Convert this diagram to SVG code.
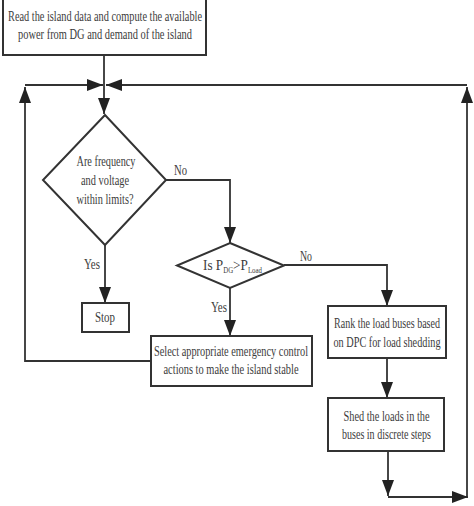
<svg xmlns="http://www.w3.org/2000/svg" width="474" height="506" viewBox="0 0 474 506">
<defs>
<style>
.box{fill:#fff;stroke:#333;stroke-width:2}
.ln{fill:none;stroke:#333;stroke-width:1.8}
.t{font-family:"Liberation Serif","Times New Roman",serif;font-size:14.5px;fill:#3c3c3c;text-anchor:middle}
.l{font-family:"Liberation Serif","Times New Roman",serif;font-size:14.5px;fill:#3c3c3c}
.s{font-size:7.5px}
</style>
<marker id="ah" markerUnits="userSpaceOnUse" markerWidth="16" markerHeight="12" refX="16" refY="6" orient="auto">
<path d="M0,0 L16,6 L0,12 z" fill="#222"/>
</marker>
</defs>
<rect width="474" height="506" fill="#fff"/>
<g id="connectors">
<path class="ln" d="M104,55 V114" marker-end="url(#ah)"/>
<path class="ln" d="M151,361 H25 V87" marker-end="url(#ah)"/>
<path class="ln" d="M25,85 H103" marker-end="url(#ah)"/>
<path class="ln" d="M388,451 V496" marker-end="url(#ah)"/>
<path class="ln" d="M388,497 H468" marker-end="url(#ah)"/>
<path class="ln" d="M467,496 V87" marker-end="url(#ah)"/>
<path class="ln" d="M467,85 H106" marker-end="url(#ah)"/>
<path class="ln" d="M105,245 V303" marker-end="url(#ah)"/>
<path class="ln" d="M166,180 H230 V243" marker-end="url(#ah)"/>
<path class="ln" d="M230,288 V336" marker-end="url(#ah)"/>
<path class="ln" d="M284,265 H387 V306" marker-end="url(#ah)"/>
<path class="ln" d="M387,358 V398" marker-end="url(#ah)"/>
</g>
<g id="start">
<rect class="box" x="3" y="-3" width="203" height="58"/>
<text class="t" x="105" y="21" textLength="194" lengthAdjust="spacingAndGlyphs">Read the island data and compute the available</text>
<text class="t" x="105" y="39" textLength="174" lengthAdjust="spacingAndGlyphs">power from DG and demand of the island</text>
</g>
<g id="decision1">
<polygon class="box" points="105,115 166,180 105,245 43,180"/>
<text class="t" x="106" y="166" textLength="59" lengthAdjust="spacingAndGlyphs">Are frequency</text>
<text class="t" x="105" y="185" textLength="48" lengthAdjust="spacingAndGlyphs">and voltage</text>
<text class="t" x="105" y="204" textLength="57" lengthAdjust="spacingAndGlyphs">within limits?</text>
<text class="l" x="174" y="175" textLength="13" lengthAdjust="spacingAndGlyphs">No</text>
<text class="l" x="84" y="269" textLength="16" lengthAdjust="spacingAndGlyphs">Yes</text>
</g>
<g id="decision2">
<polygon class="box" points="230,243 284,265.5 230,288 177,265.5"/>
<text class="l" x="203" y="270" textLength="59" lengthAdjust="spacingAndGlyphs">Is P<tspan class="s" dy="3">DG</tspan><tspan dy="-3">&gt;P</tspan><tspan class="s" dy="3">Load</tspan></text>
<text class="l" x="300" y="261" textLength="12" lengthAdjust="spacingAndGlyphs">No</text>
<text class="l" x="211" y="312" textLength="16" lengthAdjust="spacingAndGlyphs">Yes</text>
</g>
<g id="stop">
<rect class="box" x="82" y="303" width="47" height="29"/>
<text class="t" x="105" y="322" textLength="20" lengthAdjust="spacingAndGlyphs">Stop</text>
</g>
<g id="select">
<rect class="box" x="151" y="336" width="161" height="50"/>
<text class="t" x="231" y="356" textLength="154" lengthAdjust="spacingAndGlyphs">Select appropriate emergency control</text>
<text class="t" x="231" y="374" textLength="135" lengthAdjust="spacingAndGlyphs">actions to make the island stable</text>
</g>
<g id="rank">
<rect class="box" x="328" y="306" width="118" height="52"/>
<text class="t" x="387" y="328" textLength="106" lengthAdjust="spacingAndGlyphs">Rank the load buses based</text>
<text class="t" x="387" y="347" textLength="107" lengthAdjust="spacingAndGlyphs">on DPC for load shedding</text>
</g>
<g id="shed">
<rect class="box" x="328" y="398" width="116" height="53"/>
<text class="t" x="386.5" y="421" textLength="86" lengthAdjust="spacingAndGlyphs">Shed the loads in the</text>
<text class="t" x="386.5" y="439" textLength="89" lengthAdjust="spacingAndGlyphs">buses in discrete steps</text>
</g>
</svg>
